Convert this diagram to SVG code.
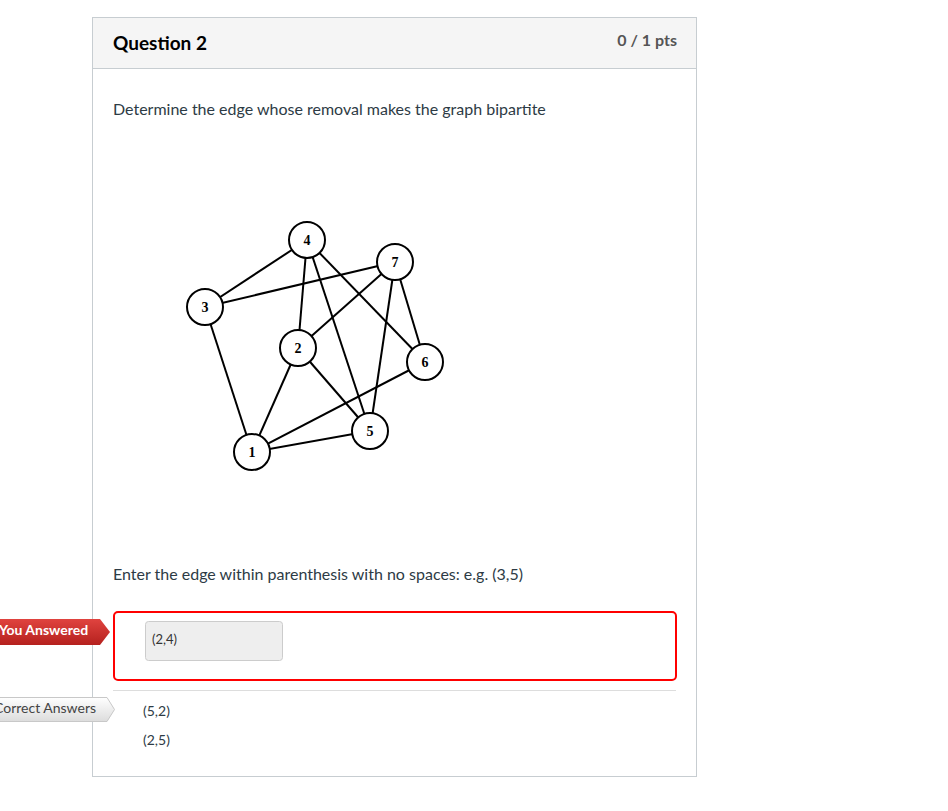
<svg xmlns="http://www.w3.org/2000/svg" width="948" height="811" viewBox="0 0 948 811">
<defs>
<linearGradient id="gRed" x1="0" y1="0" x2="0" y2="1">
<stop offset="0" stop-color="#e0433f"/>
<stop offset="1" stop-color="#b5211e"/>
</linearGradient>
<linearGradient id="gGray" x1="0" y1="0" x2="0" y2="1">
<stop offset="0" stop-color="#ffffff"/>
<stop offset="1" stop-color="#dcdcdc"/>
</linearGradient>
<style>
.ui{font-family:Lato,"Liberation Sans",sans-serif;}
.body{font-size:16px;fill:#2d3b45;}
.edge{stroke:#000;stroke-width:2;}
.node circle{fill:#fff;stroke:#000;stroke-width:2;}
.node text{font-family:"Liberation Serif","DejaVu Serif",serif;font-weight:bold;font-size:14px;text-anchor:middle;fill:#000;}
</style>
</defs>
<rect width="948" height="811" fill="#fff"/>
<!-- frame -->
<rect x="92.5" y="17.5" width="604" height="759" fill="#fff" stroke="#c7cdd1"/>
<rect x="93" y="18" width="603" height="50" fill="#f5f5f5"/>
<line x1="93" y1="68.5" x2="696" y2="68.5" stroke="#c7cdd1"/>
<text class="ui" x="113" y="50" font-size="19" font-weight="bold" fill="#000">Question 2</text>
<text class="ui" x="677" y="46" font-size="16" font-weight="bold" fill="#555" text-anchor="end">0 / 1 pts</text>
<text class="ui body" x="113" y="115">Determine the edge whose removal makes the graph bipartite</text>
<!-- graph -->
<g id="connectors">
<line class="edge" x1="307" y1="240" x2="205" y2="307"/>
<line class="edge" x1="307" y1="240" x2="298" y2="348"/>
<line class="edge" x1="307" y1="240" x2="370" y2="431"/>
<line class="edge" x1="307" y1="240" x2="425" y2="362"/>
<line class="edge" x1="395" y1="262" x2="205" y2="307"/>
<line class="edge" x1="395" y1="262" x2="298" y2="348"/>
<line class="edge" x1="395" y1="262" x2="370" y2="431"/>
<line class="edge" x1="395" y1="262" x2="425" y2="362"/>
<line class="edge" x1="205" y1="307" x2="252" y2="452"/>
<line class="edge" x1="298" y1="348" x2="252" y2="452"/>
<line class="edge" x1="298" y1="348" x2="370" y2="431"/>
<line class="edge" x1="425" y1="362" x2="252" y2="452"/>
<line class="edge" x1="252" y1="452" x2="370" y2="431"/>
</g>
<g id="n4" class="node"><circle cx="307" cy="240" r="18"/><text x="307" y="245">4</text></g>
<g id="n7" class="node"><circle cx="395" cy="262" r="18"/><text x="395" y="267">7</text></g>
<g id="n3" class="node"><circle cx="205" cy="307" r="18"/><text x="205" y="312">3</text></g>
<g id="n2" class="node"><circle cx="298" cy="348" r="18"/><text x="298" y="353">2</text></g>
<g id="n6" class="node"><circle cx="425" cy="362" r="18"/><text x="425" y="367">6</text></g>
<g id="n5" class="node"><circle cx="370" cy="431" r="18"/><text x="370" y="436">5</text></g>
<g id="n1" class="node"><circle cx="252" cy="452" r="18"/><text x="252" y="457">1</text></g>
<text class="ui body" x="113" y="580">Enter the edge within parenthesis with no spaces: e.g. (3,5)</text>
<!-- answer box -->
<rect x="114" y="612" width="562" height="68" rx="4" fill="#fff" stroke="#f00" stroke-width="2"/>
<rect x="145.5" y="621.5" width="137" height="39" rx="3" fill="#eee" stroke="#ccc"/>
<text class="ui" x="152" y="644" font-size="13" fill="#333">(2,4)</text>
<line x1="113" y1="690.5" x2="676" y2="690.5" stroke="#ddd"/>
<text class="ui" x="143" y="716" font-size="14" fill="#2d3b45">(5,2)</text>
<text class="ui" x="143" y="745" font-size="14" fill="#2d3b45">(2,5)</text>
<!-- tags -->
<path d="M0,619 H100 L110,632 L100,645 H0 Z" fill="url(#gRed)"/>
<text class="ui" x="-1" y="635" font-size="14" font-weight="bold" fill="#fff">You Answered</text>
<path d="M0,697.5 H107 L114.5,709.5 L107,721.5 H0" fill="url(#gGray)" stroke="#c8c8c8"/>
<text class="ui" x="-6" y="713" font-size="14" fill="#444">Correct Answers</text>
</svg>
